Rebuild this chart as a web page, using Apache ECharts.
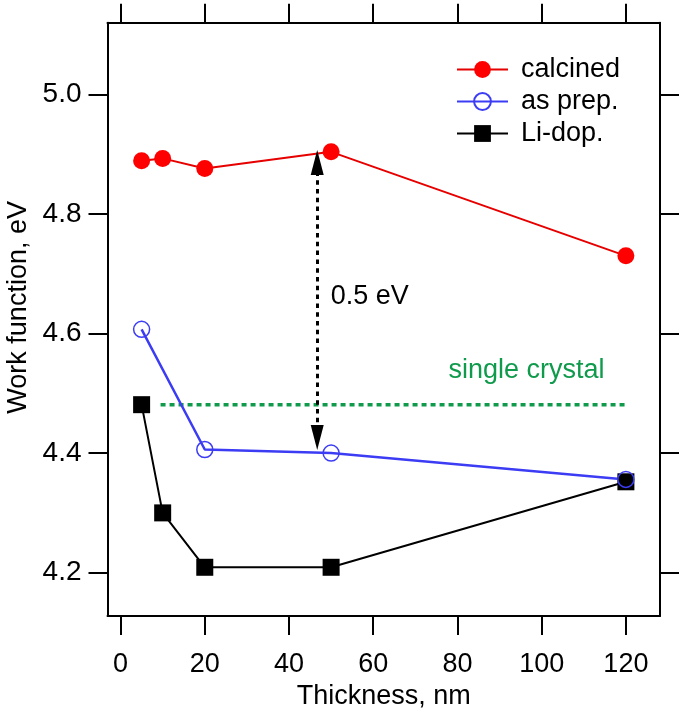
<!DOCTYPE html>
<html>
<head>
<meta charset="utf-8">
<script src="https://cdn.jsdelivr.net/npm/echarts@6/dist/echarts.min.js"></script>
<style>
  html, body { margin: 0; padding: 0; background: #fff; }
  #chart { width: 685px; height: 716px; }
</style>
</head>
<body>
<div id="chart"></div>
<script>
// data
var thickness = [5, 10, 20, 50, 120];
var thicknessAsPrep = [5, 20, 50, 120];
var calcined = [4.889, 4.893, 4.876, 4.904, 4.730];
var asPrep = [4.607, 4.406, 4.400, 4.356];
var liDop = [4.481, 4.300, 4.209, 4.209, 4.352];
var singleCrystal = 4.481;
var singleCrystalFrom = 9.5;
var singleCrystalTo = 120.2;

// tick labels
var xTicks = [0, 20, 40, 60, 80, 100, 120];
var yTicks = [4.2, 4.4, 4.6, 4.8, 5.0];

// annotations (data coordinates)
var arrowX = 46.7;
var arrowTop = 4.886;
var arrowBottom = 4.426;
var noteGap = [59.2, 4.662];
var noteCrystal = [96.4, 4.538];

var font = "'Liberation Sans', Arial, sans-serif";
var green = '#109a4c';
var blue = '#3c3cf5';

function pairs(xs, ys) {
  return xs.map(function (x, i) { return [x, ys[i]]; });
}

function xAxisOf(pos, main) {
  return {
    type: 'value', position: pos, min: -3.1, max: 128.1,
    axisLine: { show: true, onZero: false, lineStyle: { color: '#000', width: 2 } },
    axisTick: { show: true, customValues: xTicks, length: 19, lineStyle: { color: '#000', width: 2 } },
    axisLabel: { show: main, customValues: xTicks, margin: 35, fontSize: 27, color: '#000', fontFamily: font },
    splitLine: { show: false },
    name: main ? 'Thickness, nm' : '', nameLocation: 'middle', nameGap: 66,
    nameTextStyle: { fontSize: 27, color: '#000', fontFamily: font }
  };
}

function yAxisOf(pos, main) {
  return {
    type: 'value', position: pos, min: 4.1275, max: 5.12,
    axisLine: { show: true, onZero: false, lineStyle: { color: '#000', width: 2 } },
    axisTick: { show: true, customValues: yTicks, length: 19, lineStyle: { color: '#000', width: 2 } },
    axisLabel: {
      show: main, customValues: yTicks, margin: 26, fontSize: 28, color: '#000', fontFamily: font,
      formatter: function (v) { return v.toFixed(1); }
    },
    splitLine: { show: false },
    name: main ? 'Work function, eV' : '', nameLocation: 'middle', nameGap: 74,
    nameTextStyle: { fontSize: 27, color: '#000', fontFamily: font, padding: [0, 0, 0, 24] }
  };
}

var chart = echarts.init(document.getElementById('chart'));
var option = {
  animation: false,
  backgroundColor: '#fff',
  textStyle: { fontFamily: font },
  grid: { left: 107.5, right: 25, top: 22.7, bottom: 100, containLabel: false, outerBoundsMode: 'none' },
  xAxis: [xAxisOf('bottom', true), xAxisOf('top', false)],
  yAxis: [yAxisOf('left', true), yAxisOf('right', false)],
  legend: {
    data: ['calcined', 'as prep.', 'Li-dop.'],
    orient: 'vertical', left: 456, top: 56, padding: 0,
    itemWidth: 51, itemHeight: 21, itemGap: 5,
    textStyle: { fontSize: 27, color: '#000', fontFamily: font, padding: [0, 0, 0, 8] }
  },
  series: [
    {
      name: 'single crystal', type: 'line', silent: true,
      data: [[singleCrystalFrom, singleCrystal], [singleCrystalTo, singleCrystal]],
      symbol: 'none',
      lineStyle: { color: green, width: 3.5, type: [5, 4] },
      markLine: {
        silent: true,
        symbol: ['triangle', 'triangle'],
        symbolSize: [13, 25],
        label: { show: false },
        lineStyle: { color: '#000', width: 3, type: [4.5, 4.3] },
        data: [[{ coord: [arrowX, arrowTop] }, { coord: [arrowX, arrowBottom] }]]
      }
    },
    {
      name: 'Li-dop.', type: 'line',
      data: pairs(thickness, liDop),
      symbol: 'rect', symbolSize: 17,
      itemStyle: { color: '#000' },
      lineStyle: { color: '#000', width: 2 }
    },
    {
      name: 'as prep.', type: 'line',
      data: pairs(thicknessAsPrep, asPrep),
      symbol: 'circle', symbolSize: 16,
      itemStyle: { color: 'rgba(0,0,0,0)', borderColor: blue, borderWidth: 1.5 },
      lineStyle: { color: blue, width: 2.5 }
    },
    {
      name: 'calcined', type: 'line',
      data: pairs(thickness, calcined),
      symbol: 'circle', symbolSize: 17,
      itemStyle: { color: '#ff0000' },
      lineStyle: { color: '#e60000', width: 2 }
    },
    {
      name: 'notes', type: 'scatter', silent: true, symbolSize: 0,
      itemStyle: { opacity: 1 },
      label: {
        show: true, position: 'inside', fontSize: 27, fontFamily: font,
        textBorderWidth: 0, textBorderColor: 'transparent', opacity: 1
      },
      data: [
        { value: noteGap, label: { formatter: '0.5 eV', color: '#000' } },
        { value: noteCrystal, label: { formatter: 'single crystal', color: green } }
      ]
    }
  ]
};
chart.setOption(option);
</script>
</body>
</html>
